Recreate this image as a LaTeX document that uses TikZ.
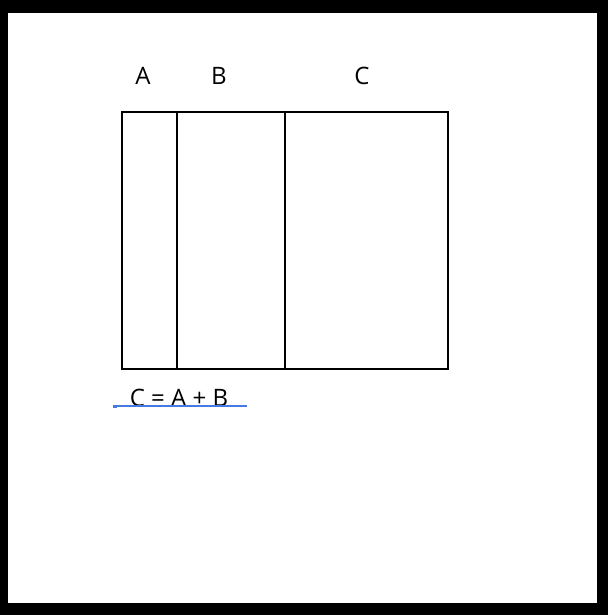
\documentclass[tikz,border=0pt]{standalone}
\usepackage{fontspec}
\setmainfont{Open Sans}
\begin{document}
\begin{tikzpicture}[x=0.75pt,y=-0.75pt,
  lbl/.style={inner sep=0pt,font=\fontsize{18}{21}\selectfont},
  box/.style={draw=black,line width=1.6pt}]
\useasboundingbox (0,0) rectangle (608,615);
\fill[black] (0,0) rectangle (608,615);
\fill[white] (8,13) rectangle (597,603);
\draw[box] (122,112) rectangle (448,369);
\draw[box] (177,112) -- (177,369);
\draw[box] (285,112) -- (285,369);
\node[lbl] (a) at (143,76) {A};
\node[lbl] (b) at (219,76) {B};
\node[lbl] (c) at (362,76) {C};
\node[lbl] (eq) at (179,398) {C = A + B};
\coordinate (l1) at (115,406);
\coordinate (l2) at (247,406);
\draw[line width=0.8pt,color={rgb,255:red,70;green,120;blue,230}] (l1) -- (l2);
\fill[color={rgb,255:red,70;green,120;blue,230}] (113,404.5) rectangle (117,408);
\end{tikzpicture}
\end{document}
